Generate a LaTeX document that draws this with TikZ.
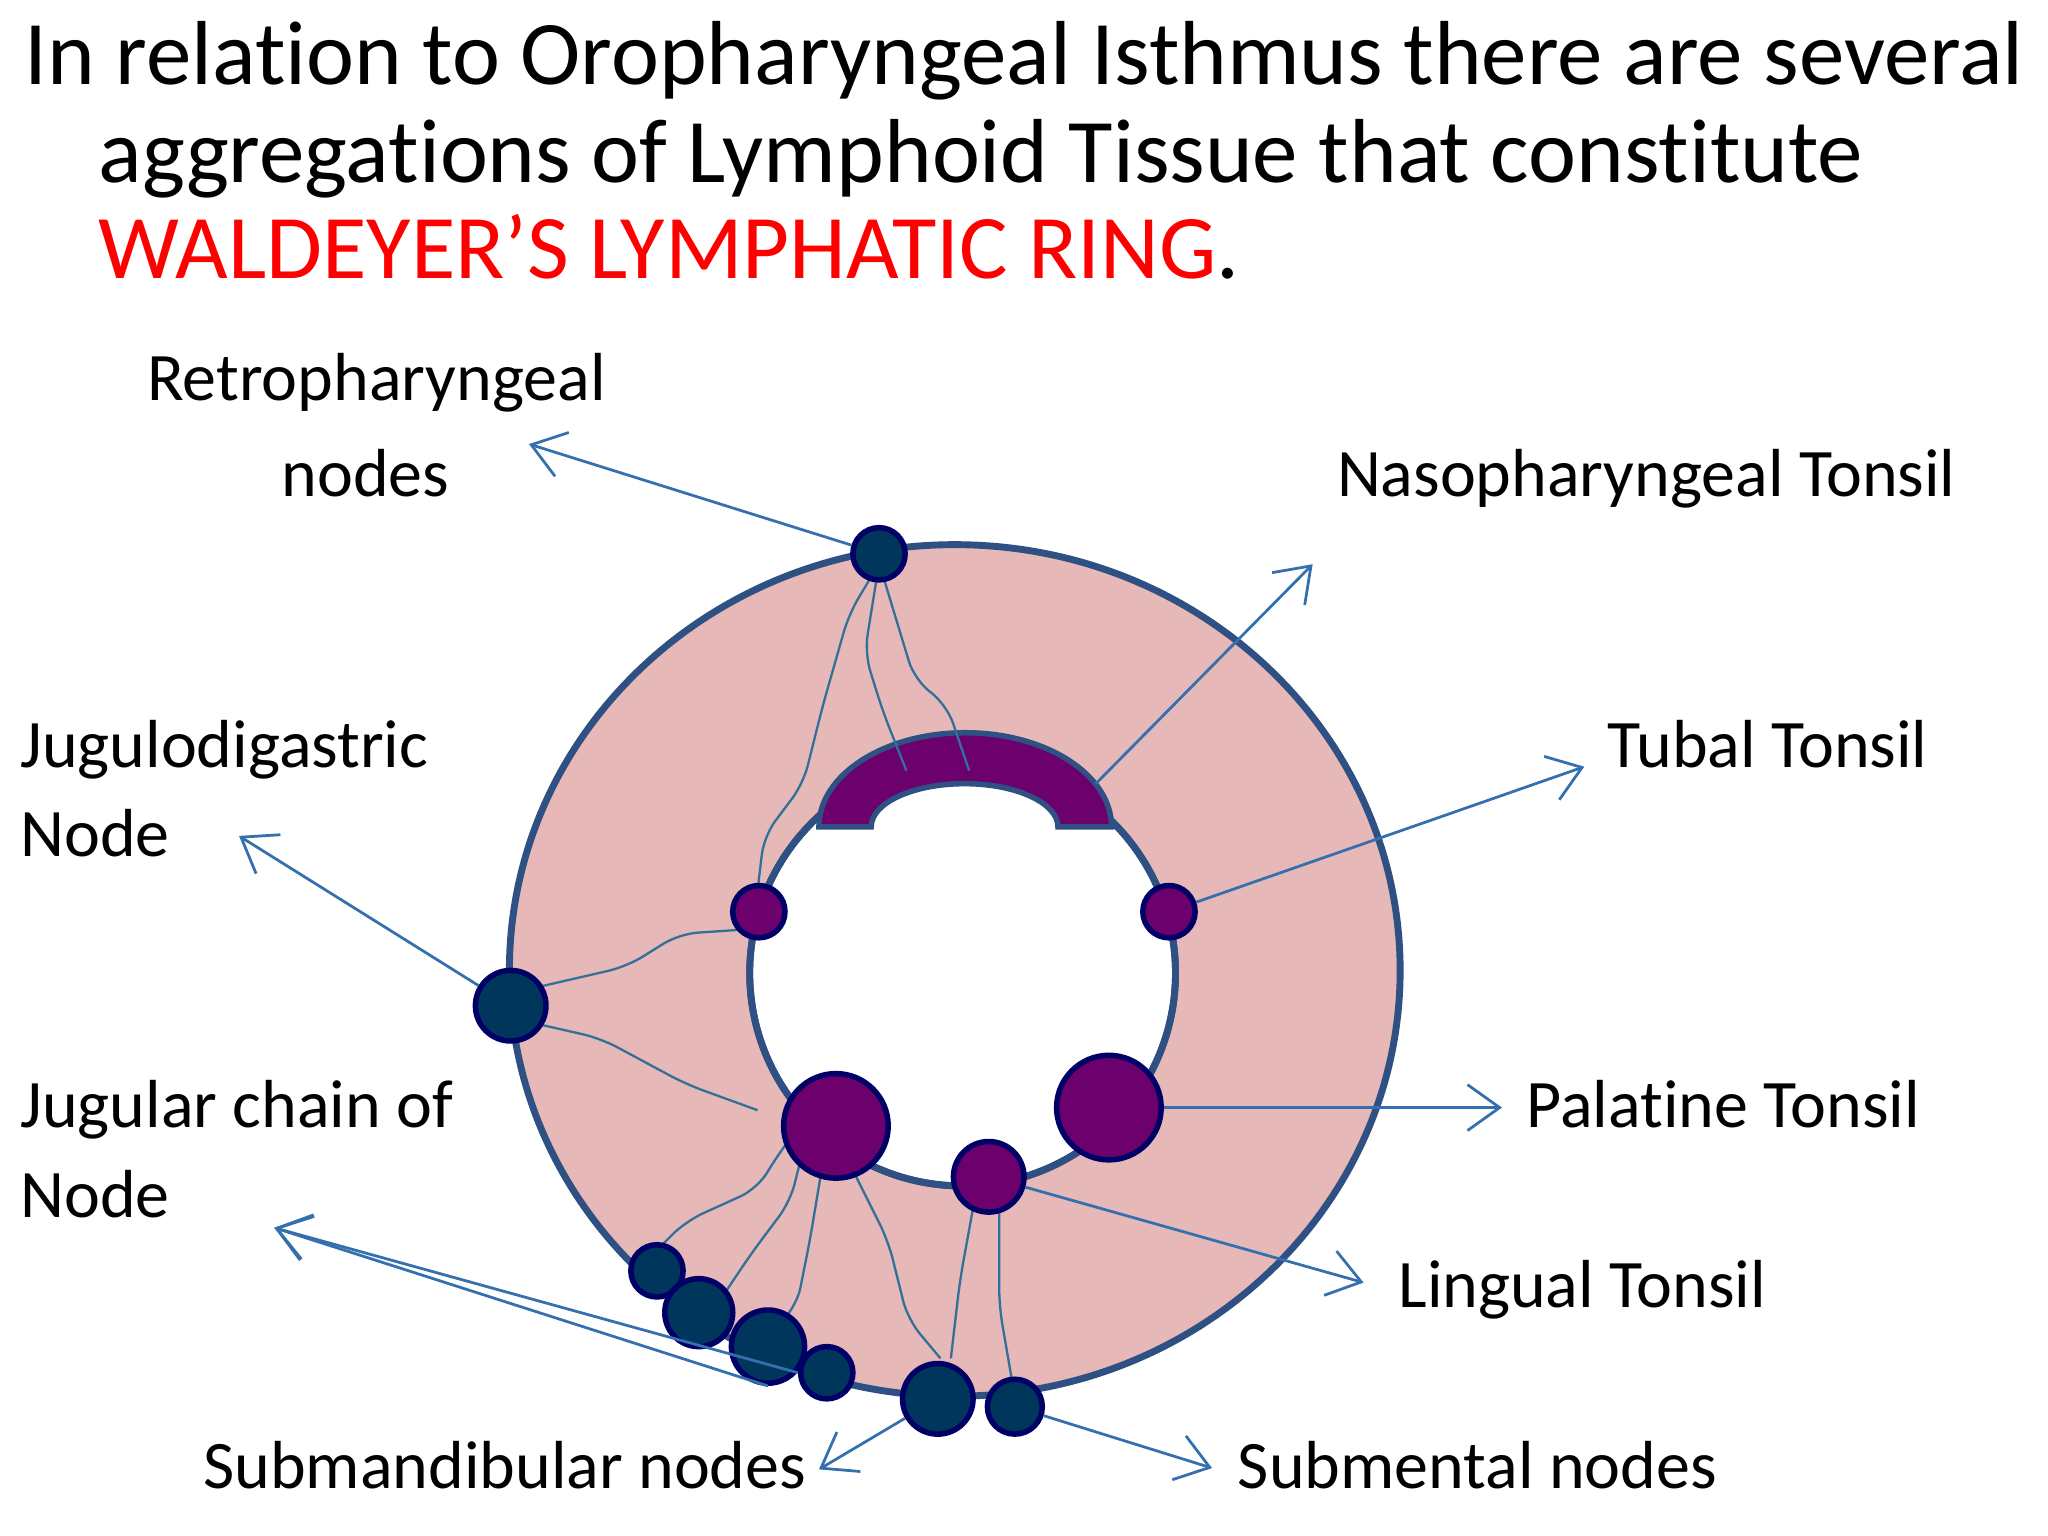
\documentclass[tikz,border=0pt]{standalone}
\usepackage{fontspec}
\setmainfont{Carlito}[Ligatures={NoCommon}]
\usetikzlibrary{arrows.meta}
\begin{document}
\begin{tikzpicture}[x=0.01cm,y=-0.01cm,
  lab/.style={anchor=base west,inner sep=0,font=\fontsize{14.8pt}{17pt}\selectfont},
  ttl/.style={anchor=base west,inner sep=0,font=\fontsize{19.8pt}{23pt}\selectfont},
  arr/.style={draw=blue!50!cyan!60!black!80,line width=0.6pt,-{Straight Barb[length=7pt,width=10pt]}},
  ves/.style={draw=blue!40!cyan!50!black!80,line width=0.5pt,rounded corners=4pt},
  dk/.style={circle,fill=teal!50!black!85!blue,draw=blue!40!black,line width=1.2pt,inner sep=0},
  pu/.style={circle,fill=violet!85!black,draw=blue!40!black,line width=1.2pt,inner sep=0}]
\useasboundingbox (0,0) rectangle (1568,1176);
\definecolor{ring}{RGB}{230,184,183}
\definecolor{edge}{RGB}{47,80,130}
% title
\node[ttl] (t1) at (18,65) {In relation to Oropharyngeal Isthmus there are several};
\node[ttl] (t2) at (75,140) {aggregations of Lymphoid Tissue that constitute};
\node[ttl] (t3) at (75,213) {\textcolor{red}{WALDEYER’S LYMPHATIC RING}.};
% ring
\fill[ring,draw=edge,line width=1.5pt,even odd rule] (731,743) ellipse [x radius=341,y radius=326] (737,745) circle [radius=163];
\draw[edge,line width=1.5pt] (737,745) circle [radius=163];
% naso band
\fill[violet!85!black,draw=edge,line width=1.2pt] (627,633) arc[start angle=180,end angle=360,x radius=112,y radius=72] -- (810,633) arc[start angle=360,end angle=180,x radius=71.5,y radius=33] -- cycle;
% vessels
\draw[ves] (668,440) -- (650,470) -- (630,540) -- (615,600) -- (585,640) -- (579,690);
\draw[ves] (671,444) -- (662,500) -- (676,545) -- (694,590);
\draw[ves] (677,444) -- (700,520) -- (725,540) -- (742,590);
\draw[ves] (415,755) -- (480,740) -- (520,715) -- (565,712);
\draw[ves] (416,785) -- (460,795) -- (525,830) -- (580,850);
\draw[ves] (610,865) -- (595,885) -- (580,910) -- (525,935) -- (505,955);
\draw[ves] (615,880) -- (605,920) -- (575,960) -- (555,990);
\draw[ves] (630,890) -- (620,950) -- (610,1000) -- (595,1015);
\draw[ves] (650,890) -- (680,950) -- (695,1010) -- (720,1040);
\draw[ves] (745,925) -- (735,980) -- (728,1040);
\draw[ves] (765,925) -- (765,1000) -- (775,1058);
% nodes
\node[dk,minimum size=0.40cm] (retro) at (673,424) {};
\node[dk,minimum size=0.54cm] (jd) at (391,770) {};
\node[dk,minimum size=0.40cm] (b1) at (503,973) {};
\node[dk,minimum size=0.52cm] (b2) at (535,1005) {};
\node[dk,minimum size=0.56cm] (b3) at (588,1031) {};
\node[dk,minimum size=0.40cm] (b4) at (633,1051) {};
\node[dk,minimum size=0.54cm] (sm1) at (718,1071) {};
\node[dk,minimum size=0.42cm] (sm2) at (777,1077) {};
\node[pu,minimum size=0.40cm] (tl) at (581,698) {};
\node[pu,minimum size=0.40cm] (tub) at (895,698) {};
\node[pu,minimum size=0.80cm] (pl) at (640,862) {};
\node[pu,minimum size=0.80cm] (pal) at (849,848) {};
\node[pu,minimum size=0.54cm] (ling) at (757,901) {};
\coordinate (naso) at (839,600);
% labels
\node[lab] (lr) at (112,307) {Retropharyngeal};
\node[lab] (lr2) at (215,380) {nodes};
\node[lab] (ln) at (1023,380) {Nasopharyngeal Tonsil};
\node[lab] (lt) at (1230,588) {Tubal Tonsil};
\node[lab] (lj) at (15,588) {Jugulodigastric};
\node[lab] (lj2) at (15,656) {Node};
\node[lab] (lc) at (15,863) {Jugular chain of};
\node[lab] (lc2) at (15,932) {Node};
\node[lab] (lp) at (1168,863) {Palatine Tonsil};
\node[lab] (ll) at (1070,1001) {Lingual Tonsil};
\node[lab] (lsb) at (155,1140) {Submandibular nodes};
\node[lab] (lsm) at (947,1140) {Submental nodes};
% arrows
\coordinate (aR) at (405,340); \coordinate (aN) at (1005,432);
\coordinate (aT) at (1213,587); \coordinate (aJ) at (183,640);
\coordinate (aP) at (1150,848); \coordinate (aL) at (1044,982);
\coordinate (aC) at (210,940); \coordinate (aSB) at (627,1125);
\coordinate (aSM) at (928,1124);
\draw[arr] (retro) -- (aR);
\draw[arr] (naso) -- (aN);
\draw[arr] (tub) -- (aT);
\draw[arr] (jd) -- (aJ);
\draw[arr] (pal) -- (aP);
\draw[arr] (ling) -- (aL);
\draw[arr] (b3.south) -- (aC);
\draw[arr] (b4.west) -- (aC);
\draw[arr] (sm1) -- (aSB);
\draw[arr] (sm2) -- (aSM);
\end{tikzpicture}
\end{document}
